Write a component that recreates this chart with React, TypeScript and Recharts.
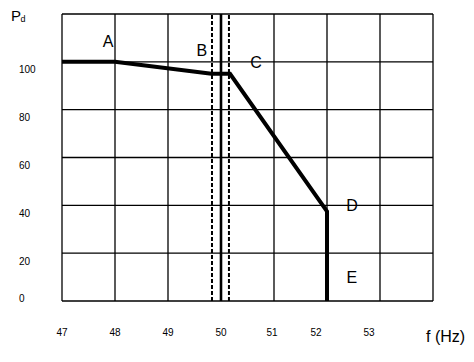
import React from 'react';
import {
  ComposedChart,
  Line,
  Scatter,
  XAxis,
  YAxis,
  CartesianGrid,
  ReferenceLine,
} from 'recharts';

// Frequency (Hz) and power (Pd, %) along the characteristic
const curveFreq = [47, 48, 49.82, 50.17, 52, 52];
const curvePower = [100, 100, 95, 95, 37.5, 0];

// Point letters and where they sit (data coordinates)
const letterNames = ['A', 'B', 'C', 'D', 'E'];
const letterFreq = [47.87, 49.64, 50.66, 52.47, 52.47];
const letterPower = [108.7, 104.9, 99.9, 40.1, 10.0];

// Dead-band lines around 50 Hz
const deadBandLow = 49.83;
const deadBandHigh = 50.15;
const nominalFreq = 50;

// Axis ticks
const xTicks = [47, 48, 49, 50, 51, 52, 53, 54];
const xLabeled = [47, 48, 49, 50, 51, 52, 53];
const yTicks = [0, 20, 40, 60, 80, 100, 120];
const yLabeled = [0, 20, 40, 60, 80, 100];

// small label nudges seen in the original figure
const xLabelShift: Record<number, number> = { 51: -2, 52: -11, 53: -11 };

const curve = curveFreq.map((f, i) => ({ f, p: curvePower[i] }));
const letters = letterNames.map((name, i) => ({
  name,
  f: letterFreq[i],
  p: letterPower[i],
}));

const FONT = '"Liberation Sans", Arial, sans-serif';

const XTick = (props: any) => {
  const { x, y, payload } = props;
  const v = payload.value;
  if (!xLabeled.includes(v)) return null;
  return (
    <text
      x={x + (xLabelShift[v] || 0)}
      y={y}
      dy="0.71em"
      textAnchor="middle"
      fontSize={10}
      fontFamily={FONT}
      fill="#000"
    >
      {v}
    </text>
  );
};

const YTick = (props: any) => {
  const { x, y, payload } = props;
  const v = payload.value;
  if (!yLabeled.includes(v)) return null;
  return (
    <text
      x={x}
      y={y + (v === 0 ? -3 : 8)}
      dy="0.35em"
      textAnchor="start"
      fontSize={10}
      fontFamily={FONT}
      fill="#000"
    >
      {v}
    </text>
  );
};

const LetterShape = (props: any) => {
  const { cx, cy, payload } = props;
  return (
    <text
      x={cx}
      y={cy}
      dy="0.36em"
      textAnchor="middle"
      fontSize={16}
      fontFamily={FONT}
      fill="#000"
    >
      {payload.name}
    </text>
  );
};

export default function App() {
  return (
    <div
      style={{
        position: 'absolute',
        left: 0,
        top: 0,
        width: 474,
        height: 362,
        background: '#fff',
      }}
    >
      <ComposedChart
        width={474}
        height={362}
        data={curve}
        margin={{ top: 14, right: 41, bottom: 21, left: 0 }}
      >
        <CartesianGrid stroke="#000" strokeWidth={1.3} />
        <XAxis
          dataKey="f"
          type="number"
          domain={[47, 54]}
          ticks={xTicks}
          allowDataOverflow
          axisLine={false}
          tickLine={false}
          tickSize={0}
          tickMargin={28}
          height={40}
          tick={<XTick />}
          interval={0}
        />
        <YAxis
          dataKey="p"
          type="number"
          domain={[0, 120]}
          ticks={yTicks}
          allowDataOverflow
          axisLine={false}
          tickLine={false}
          tickSize={0}
          tickMargin={43}
          width={62}
          tick={<YTick />}
          interval={0}
        />
        <ReferenceLine x={deadBandLow} stroke="#000" strokeWidth={2} strokeDasharray="4 2" />
        <ReferenceLine x={nominalFreq} stroke="#000" strokeWidth={2.6} />
        <ReferenceLine x={deadBandHigh} stroke="#000" strokeWidth={2} strokeDasharray="4 2" />
        <Line
          data={curve}
          dataKey="p"
          type="linear"
          stroke="#000"
          strokeWidth={4}
          strokeLinejoin="miter"
          dot={false}
          activeDot={false}
          isAnimationActive={false}
        />
        <Scatter
          data={letters}
          dataKey="p"
          shape={<LetterShape />}
          isAnimationActive={false}
        />
      </ComposedChart>
      <svg
        width={474}
        height={362}
        style={{ position: 'absolute', left: 0, top: 0, pointerEvents: 'none' }}
      >
        <text x={11} y={21} fontSize={15} fontFamily={FONT} fill="#000">
          P
        </text>
        <text x={20.5} y={21.5} fontSize={9} fontFamily={FONT} fill="#000">
          d
        </text>
        <text x={426} y={342} fontSize={16} fontFamily={FONT} fill="#000">
          f (Hz)
        </text>
      </svg>
    </div>
  );
}
